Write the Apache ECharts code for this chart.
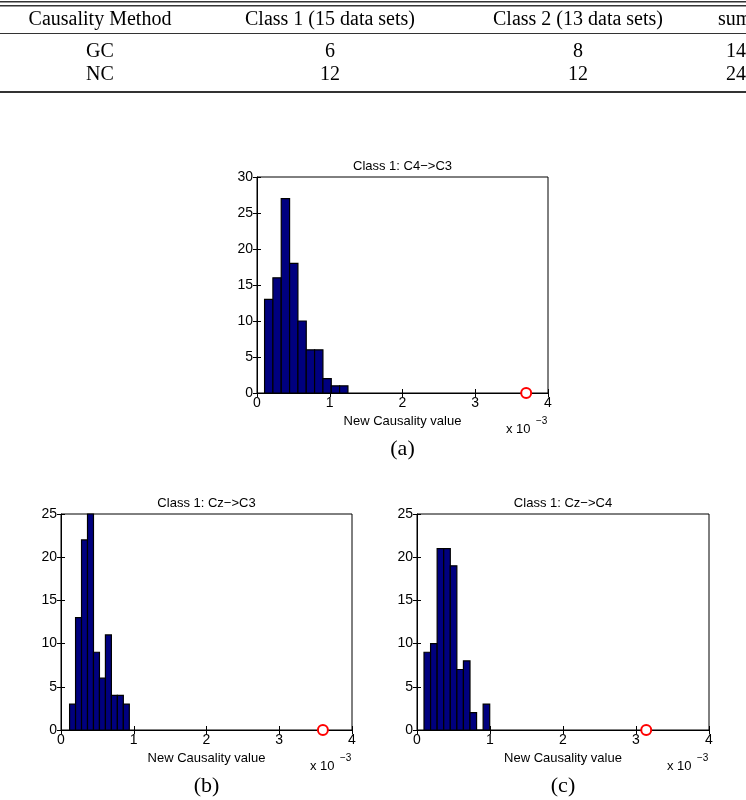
<!DOCTYPE html>
<html>
<head>
<meta charset="utf-8">
<script src="https://cdn.jsdelivr.net/npm/echarts@6/dist/echarts.min.js"></script>
<style>
  html,body{margin:0;padding:0;background:#fff;}
  #main{width:746px;height:800px;}
</style>
</head>
<body>
<div id="main"></div>
<script>
// table
var tableHeader = ['Causality Method', 'Class 1 (15 data sets)', 'Class 2 (13 data sets)', 'sum'];
var tableRows = [['GC', '6', '8', '14'], ['NC', '12', '12', '24']];

// histograms (x in units of 1e-3)
var titles = ['Class 1: C4\u2212>C3', 'Class 1: Cz\u2212>C3', 'Class 1: Cz\u2212>C4'];
var captions = ['(a)', '(b)', '(c)'];
var countsA = [13, 16, 27, 18, 10, 6, 6, 2, 1, 1];
var countsB = [3, 13, 22, 25, 9, 6, 11, 4, 4, 3];
var countsC = [9, 10, 21, 21, 19, 7, 8, 2, 0, 3];
var binStarts = [0.104, 0.118, 0.096];
var binWidths = [0.1146, 0.0821, 0.09];
var trueValues = [3.70, 3.60, 3.14];
var yMaxes = [30, 25, 25];

var allCounts = [countsA, countsB, countsC];
var boxes = [
  {left: 257, top: 177, width: 291, height: 216},
  {left: 61, top: 514, width: 291, height: 216},
  {left: 417, top: 514, width: 292, height: 216}
];

var chart = echarts.init(document.getElementById('main'));
var serif = '"Liberation Serif", "DejaVu Serif", serif';
var sans = 'Helvetica, "Liberation Sans", Arial, sans-serif';

var grids = [], xAxes = [], yAxes = [], series = [], graphics = [];

/**
 * 表格部分
 */
var colX = [100, 330, 578, 718];
graphics.push({type: 'rect', shape: {x: 0, y: 1, width: 746, height: 1.5}, style: {fill: '#333'}});
graphics.push({type: 'rect', shape: {x: 0, y: 5, width: 746, height: 1.5}, style: {fill: '#333'}});
graphics.push({type: 'rect', shape: {x: 0, y: 33, width: 746, height: 1}, style: {fill: '#333'}});
graphics.push({type: 'rect', shape: {x: 0, y: 91, width: 746, height: 2}, style: {fill: '#333'}});
for (var c = 0; c < tableHeader.length; c++) {
  var isLast = c == tableHeader.length - 1;
  graphics.push({type: 'text', x: colX[c], y: 20, style: {text: tableHeader[c], font: '20px ' + serif, fill: '#000', textAlign: isLast ? 'left' : 'center', textVerticalAlign: 'middle'}});
  for (var r = 0; r < tableRows.length; r++) {
    graphics.push({type: 'text', x: isLast ? 726 : colX[c], y: 52 + r * 23, style: {text: tableRows[r][c], font: '20px ' + serif, fill: '#000', textAlign: isLast ? 'left' : 'center', textVerticalAlign: 'middle'}});
  }
}

function renderBin(params, api) {
  var p0 = api.coord([api.value(0), api.value(2)]);
  var p1 = api.coord([api.value(1), 0]);
  return {
    type: 'rect',
    shape: {x: p0[0], y: p0[1], width: p1[0] - p0[0], height: p1[1] - p0[1]},
    style: {fill: '#00007f', stroke: '#000', lineWidth: 1.2}
  };
}

for (var i = 0; i < 3; i++) {
  var b = boxes[i];
  grids.push({left: b.left, top: b.top, width: b.width, height: b.height, show: true, borderColor: '#000', borderWidth: 1, backgroundColor: '#fff'});
  var tickCommon = {show: true, inside: true, length: 4, lineStyle: {color: '#000'}};
  xAxes.push({gridIndex: i, type: 'value', min: 0, max: 4, interval: 1,
    axisLine: {lineStyle: {color: '#000'}}, axisTick: tickCommon, splitLine: {show: false},
    axisLabel: {color: '#000', fontSize: 14, fontFamily: sans, margin: 3},
    name: 'New Causality value', nameLocation: 'middle', nameGap: 22,
    nameTextStyle: {color: '#000', fontSize: 13, fontFamily: sans}});
  xAxes.push({gridIndex: i, type: 'value', min: 0, max: 4, interval: 1, position: 'top',
    axisLine: {show: false}, axisTick: tickCommon, axisLabel: {show: false}, splitLine: {show: false}});
  yAxes.push({gridIndex: i, type: 'value', min: 0, max: yMaxes[i], interval: 5,
    axisLine: {lineStyle: {color: '#000'}}, axisTick: tickCommon, splitLine: {show: false},
    axisLabel: {color: '#000', fontSize: 14, fontFamily: sans, margin: 4}});
  yAxes.push({gridIndex: i, type: 'value', min: 0, max: yMaxes[i], interval: 5, position: 'right',
    axisLine: {show: false}, axisTick: tickCommon, axisLabel: {show: false}, splitLine: {show: false}});

  var binData = [];
  for (var k = 0; k < allCounts[i].length; k++) {
    var s = binStarts[i] + k * binWidths[i];
    binData.push([s, s + binWidths[i], allCounts[i][k]]);
  }
  series.push({type: 'custom', xAxisIndex: i * 2, yAxisIndex: i * 2, renderItem: renderBin,
    encode: {x: [0, 1], y: 2}, data: binData, silent: true});
  series.push({type: 'scatter', xAxisIndex: i * 2, yAxisIndex: i * 2, symbol: 'emptyCircle', symbolSize: 10,
    clip: false, itemStyle: {color: '#ff0000', borderColor: '#ff0000', borderWidth: 1.5, opacity: 1},
    data: [[trueValues[i], 0]], z: 10, silent: true});

  graphics.push({type: 'text', x: b.left + b.width / 2, y: b.top - 11, style: {text: titles[i], font: '13px ' + sans, fill: '#000', textAlign: 'center', textVerticalAlign: 'middle'}});
  graphics.push({type: 'text', x: b.left + b.width - 42, y: b.top + b.height + 36, style: {text: 'x 10', font: '13px ' + sans, fill: '#000', textAlign: 'left', textVerticalAlign: 'middle'}});
  graphics.push({type: 'text', x: b.left + b.width - 12, y: b.top + b.height + 28, style: {text: '\u22123', font: '10px ' + sans, fill: '#000', textAlign: 'left', textVerticalAlign: 'middle'}});
  graphics.push({type: 'text', x: b.left + b.width / 2, y: b.top + b.height + 56, style: {text: captions[i], font: '22px ' + serif, fill: '#000', textAlign: 'center', textVerticalAlign: 'middle'}});
}

chart.setOption({
  animation: false,
  grid: grids,
  xAxis: xAxes,
  yAxis: yAxes,
  series: series,
  graphic: graphics
});
</script>
</body>
</html>
